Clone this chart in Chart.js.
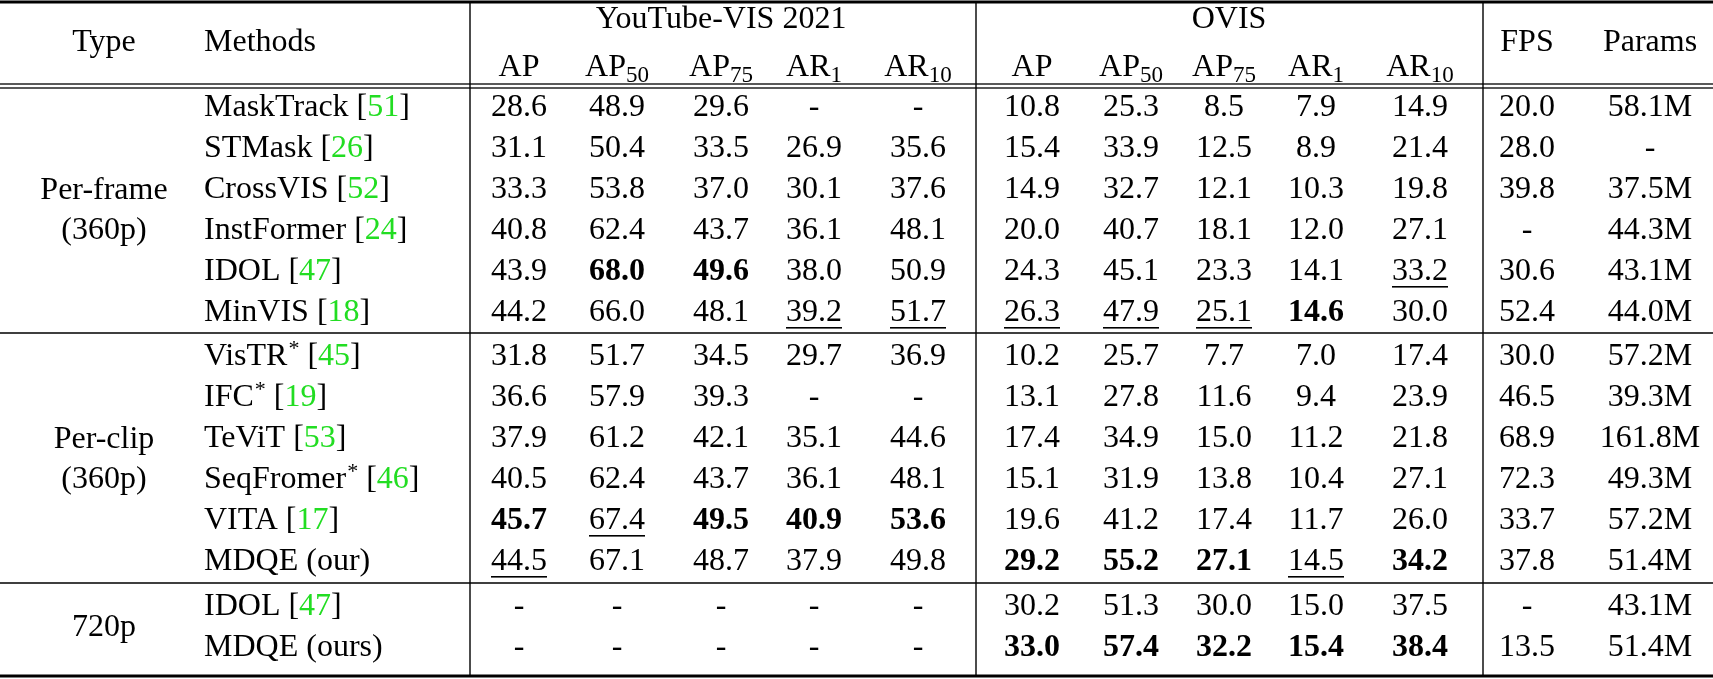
<!DOCTYPE html>
<html><head><meta charset="utf-8">
<script src="https://cdn.jsdelivr.net/npm/chart.js@4"></script>
<style>html,body{margin:0;padding:0;background:#fff}#w{width:1713px;height:679px}</style>
</head><body><div id="w"><canvas id="c"></canvas></div>
<script>
// ---- data ----
const methods = ["MaskTrack","STMask","CrossVIS","InstFormer","IDOL","MinVIS","VisTR","IFC","TeViT","SeqFromer","VITA","MDQE (our)","IDOL","MDQE (ours)"];
const refs = ["51","26","52","24","47","18","45","19","53","46","17","","47",""];
const stars = [0,0,0,0,0,0,1,1,0,1,0,0,0,0];
const ytvis = [
 ["28.6","48.9","29.6","-","-"],["31.1","50.4","33.5","26.9","35.6"],["33.3","53.8","37.0","30.1","37.6"],
 ["40.8","62.4","43.7","36.1","48.1"],["43.9","68.0","49.6","38.0","50.9"],["44.2","66.0","48.1","39.2","51.7"],
 ["31.8","51.7","34.5","29.7","36.9"],["36.6","57.9","39.3","-","-"],["37.9","61.2","42.1","35.1","44.6"],
 ["40.5","62.4","43.7","36.1","48.1"],["45.7","67.4","49.5","40.9","53.6"],["44.5","67.1","48.7","37.9","49.8"],
 ["-","-","-","-","-"],["-","-","-","-","-"]];
const ovis = [
 ["10.8","25.3","8.5","7.9","14.9"],["15.4","33.9","12.5","8.9","21.4"],["14.9","32.7","12.1","10.3","19.8"],
 ["20.0","40.7","18.1","12.0","27.1"],["24.3","45.1","23.3","14.1","33.2"],["26.3","47.9","25.1","14.6","30.0"],
 ["10.2","25.7","7.7","7.0","17.4"],["13.1","27.8","11.6","9.4","23.9"],["17.4","34.9","15.0","11.2","21.8"],
 ["15.1","31.9","13.8","10.4","27.1"],["19.6","41.2","17.4","11.7","26.0"],["29.2","55.2","27.1","14.5","34.2"],
 ["30.2","51.3","30.0","15.0","37.5"],["33.0","57.4","32.2","15.4","38.4"]];
const fps = ["20.0","28.0","39.8","-","30.6","52.4","30.0","46.5","68.9","72.3","33.7","37.8","-","13.5"];
const params = ["58.1M","-","37.5M","44.3M","43.1M","44.0M","57.2M","39.3M","161.8M","49.3M","57.2M","51.4M","43.1M","51.4M"];
// styles: b = bold, u = underline (10 metric columns per row)
const marks = [
 "..........","..........","..........","..........",".bb......u","...uuuuub.",
 "..........","..........","..........","..........","bubbb.....","u....bbbub",
 "..........",".....bbbbb"];
const groups = [["Per-frame","(360p)"],["Per-clip","(360p)"],["720p"]];
const groupRows = [[0,5],[6,11],[12,13]];
const subHeads = [["AP",""],["AP","50"],["AP","75"],["AR","1"],["AR","10"]];

// ---- layout ----
const colX = [519,617,721,814,918,1032,1131,1224,1316,1420,1527,1650];
const rowY = [108,149,190,231,272,313,357,398,439,480,521,562,607,648];
const FONT = '"Liberation Serif","Times New Roman",serif';
const FS = 32;

const pts = [];
rowY.forEach((y,r)=>colX.forEach((x,c)=>pts.push({x:x,y:y,r:r,c:c})));

function txt(ctx,s,x,y,opt={}){
  ctx.font=(opt.bold?'bold ':'')+(opt.size||FS)+'px '+FONT;
  ctx.fillStyle=opt.color||'#000';
  ctx.textAlign=opt.align||'center';ctx.textBaseline='middle';
  ctx.fillText(s,x,y);
  const w=ctx.measureText(s).width;
  if(opt.under){const l=opt.align==='left'?x:x-w/2;ctx.fillRect(l,y+14,w,1.6);}
  return w;
}
function sub(ctx,base,s,x,y){
  ctx.font=FS+'px '+FONT;const w1=ctx.measureText(base).width;
  ctx.font=(FS*0.72)+'px '+FONT;const w2=ctx.measureText(s).width;
  const l=x-(w1+w2)/2;
  txt(ctx,base,l,y,{align:'left'});
  if(s) txt(ctx,s,l+w1,y+8,{align:'left',size:FS*0.72});
}

const tablePlugin={id:'tbl',afterDatasetsDraw(chart){
  const ctx=chart.ctx, xs=chart.scales.x, ys=chart.scales.y;
  const X=v=>xs.getPixelForValue(v), Y=v=>ys.getPixelForValue(v);
  ctx.save();
  const hl=(y,t)=>{ctx.fillStyle='#000';ctx.fillRect(X(0),Y(y)-t/2,X(1713)-X(0),t);};
  const vl=(x)=>{ctx.fillStyle='#000';ctx.fillRect(X(x)-0.7,Y(3),1.4,Y(675)-Y(3));};
  hl(2,3);hl(84,1.3);hl(88,1.3);hl(333,1.5);hl(583,1.5);hl(676,3);
  [470,976,1483].forEach(vl);
  txt(ctx,"Type",X(104),Y(43));
  txt(ctx,"Methods",X(204),Y(43),{align:'left'});
  txt(ctx,"YouTube-VIS 2021",X(721),Y(20));
  txt(ctx,"OVIS",X(1229),Y(20));
  txt(ctx,"FPS",X(1527),Y(43));txt(ctx,"Params",X(1650),Y(43));
  for(let k=0;k<10;k++){const h=subHeads[k%5];sub(ctx,h[0],h[1],X(colX[k]),Y(68));}
  groups.forEach((g,i)=>{const [a,b]=groupRows[i];const cy=(rowY[a]+rowY[b])/2;
    if(g.length===2){txt(ctx,g[0],X(104),Y(cy-20));txt(ctx,g[1],X(104),Y(cy+20));}
    else txt(ctx,g[0],X(104),Y(cy));});
  methods.forEach((m,r)=>{let x=X(204),y=Y(rowY[r]);
    x+=txt(ctx,m,x,y,{align:'left'});
    if(stars[r]) x+=txt(ctx,"*",x+1,y-8,{align:'left',size:22})+1;
    if(refs[r]){x+=txt(ctx," [",x,y,{align:'left'});x+=txt(ctx,refs[r],x,y,{align:'left',color:'#22dd22'});txt(ctx,"]",x,y,{align:'left'});}
  });
  const meta=chart.getDatasetMeta(0);
  meta.data.forEach((el,i)=>{const p=pts[i];const r=p.r,c=p.c;
    let s,b=false,u=false;
    if(c<5)s=ytvis[r][c];else if(c<10)s=ovis[r][c-5];else if(c===10)s=fps[r];else s=params[r];
    if(c<10){b=marks[r][c]==='b';u=marks[r][c]==='u';}
    txt(ctx,s,el.x,el.y,{bold:b,under:u});
  });
  ctx.restore();
}};

new Chart(document.getElementById('c'),{
  type:'scatter',
  data:{datasets:[{data:pts,pointRadius:0,pointHoverRadius:0}]},
  options:{responsive:true,maintainAspectRatio:false,animation:false,
    layout:{padding:0},
    plugins:{legend:{display:false},tooltip:{enabled:false}},
    scales:{x:{type:'linear',min:0,max:1713,display:false},
            y:{type:'linear',min:0,max:679,reverse:true,display:false}}},
  plugins:[tablePlugin]
});
</script></body></html>
